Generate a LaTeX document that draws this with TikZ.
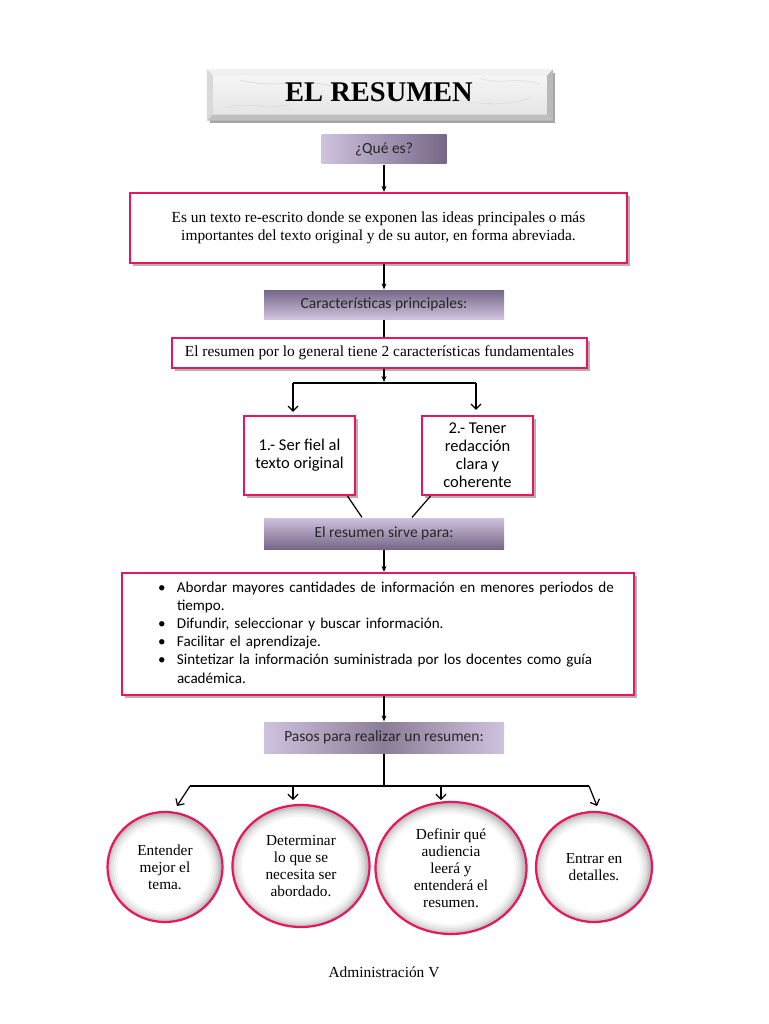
\documentclass[tikz,border=0pt]{standalone}
\usepackage{fontspec}
\setmainfont{Liberation Serif}
\newfontfamily\calibri{Carlito}
\usetikzlibrary{arrows.meta,shadows,shapes.geometric,calc}
\definecolor{rosa}{RGB}{232,22,94}
\definecolor{lilaclaro}{RGB}{206,194,222}
\definecolor{lilaoscuro}{RGB}{118,103,134}
\tikzset{
  caja/.style={draw=rosa, line width=2.2pt, fill=white, align=center,
    drop shadow={shadow xshift=3pt, shadow yshift=-3pt, fill=black, opacity=0.3},
    font=\fontsize{15.4}{18}\selectfont},
  etiq/.style={font=\calibri\fontsize{15.5}{17}\selectfont, text=black!85, inner sep=0pt},
  circulo/.style={ellipse, draw=rosa, line width=2.2pt, fill=white, align=center,
    font=\fontsize{15.3}{17}\selectfont, inner sep=0pt,
    path picture={
      \foreach \w/\o in {22/0.03,18/0.03,14/0.04,10/0.05,7/0.06,4/0.08}
        \draw[black, opacity=\o, line width=\w pt]
          let \p1=($(path picture bounding box.north east)-(path picture bounding box.center)$) in
          ([xshift=-1pt,yshift=-1pt]path picture bounding box.center) ellipse [x radius=\x1, y radius=\y1];
    }},
  barb/.style={-{Straight Barb[length=5pt,width=10pt]}},
  >={Stealth[length=6pt,width=5pt]}
}
\begin{document}
\begin{tikzpicture}[x=1pt, y=-1pt, line width=1.2pt]
  \useasboundingbox[fill=white] (0,0) rectangle (768,1024);

  % titulo
  \node[top color=gray!6, bottom color=gray!22, minimum width=345, minimum height=50, inner sep=0pt,
        drop shadow={shadow xshift=2pt, shadow yshift=-3pt, fill=black, opacity=0.35}] (titulo) at (380,95) {};
  \draw[gray!35, line width=0.5pt] (240,80) .. controls (280,90) and (300,76) .. (340,88);
  \draw[gray!30, line width=0.5pt] (420,104) .. controls (460,95) and (490,112) .. (530,98);
  \draw[gray!30, line width=0.5pt] (225,108) .. controls (250,100) and (265,112) .. (290,104);
  \draw[gray!30, line width=0.5pt] (480,78) .. controls (500,86) and (515,76) .. (540,84);
  \fill[gray!12] (titulo.north west) -- (titulo.north east) -- ([xshift=-6pt,yshift=-6pt]titulo.north east) -- ([xshift=6pt,yshift=-6pt]titulo.north west) -- cycle;
  \fill[gray!30] (titulo.north west) -- ([xshift=6pt,yshift=-6pt]titulo.north west) -- ([xshift=6pt,yshift=6pt]titulo.south west) -- (titulo.south west) -- cycle;
  \fill[gray!55] (titulo.north east) -- ([xshift=-6pt,yshift=-6pt]titulo.north east) -- ([xshift=-6pt,yshift=6pt]titulo.south east) -- (titulo.south east) -- cycle;
  \fill[gray!50] (titulo.south west) -- ([xshift=6pt,yshift=6pt]titulo.south west) -- ([xshift=-6pt,yshift=6pt]titulo.south east) -- (titulo.south east) -- cycle;
  \node[font=\fontsize{28.5}{30}\selectfont\bfseries] (tituloTxt) at (379,92) {EL RESUMEN};

  % cajas
  \node[etiq, left color=lilaclaro, right color=lilaoscuro, minimum width=125, minimum height=29] (que) at (384,149.5) {¿Qué es?};
  \node[caja, minimum width=497, minimum height=70] (def) at (378.5,228)
    {Es un texto re-escrito donde se exponen las ideas principales o más\\importantes del texto original y de su autor, en forma abreviada.};
  \node[etiq, top color=lilaoscuro, bottom color=lilaclaro, minimum width=240, minimum height=29] (carac) at (384,304.5) {Características principales:};
  \node[caja, minimum width=415, minimum height=30, inner sep=0pt] (fund) at (379.5,353)
    {El resumen por lo general tiene 2 características fundamentales};
  \node[caja, font=\calibri\fontsize{16.5}{18}\selectfont, minimum width=111, minimum height=79, inner sep=0pt] (uno) at (299.5,455.5)
    {1.- Ser fiel al\\texto original};
  \node[caja, font=\calibri\fontsize{16.5}{18}\selectfont, minimum width=111, minimum height=79, inner sep=0pt] (dos) at (477.5,455.5)
    {2.- Tener\\redacción\\clara y\\coherente};
  \node[etiq, top color=lilaclaro, bottom color=lilaoscuro, minimum width=240, minimum height=31] (sirve) at (384,533.5) {El resumen sirve para:};
  \node[caja, font=\calibri\fontsize{15.1}{18.2}\selectfont, align=left, text width=490,
        minimum width=512, minimum height=122] (usos) at (378,634)
    {\hspace*{25pt}\begin{tabular}{@{}p{19pt}@{}l@{}}
     \textbullet & Abordar mayores cantidades de información en menores periodos de\\
      & tiempo.\\
     \textbullet & Difundir, seleccionar y buscar información.\\
     \textbullet & Facilitar el aprendizaje.\\
     \textbullet & Sintetizar la información suministrada por los docentes como guía\\
      & académica.
     \end{tabular}};
  \node[etiq, left color=lilaclaro, right color=lilaclaro, middle color=lilaoscuro!85,
        minimum width=240, minimum height=31] (pasos) at (384,737.5) {Pasos para realizar un resumen:};

  % pasos
  \node[circulo, minimum width=115, minimum height=110] (p1) at (165,867) {Entender\\mejor el\\tema.};
  \node[circulo, minimum width=137, minimum height=122] (p2) at (301,866) {Determinar\\lo que se\\necesita ser\\abordado.};
  \node[circulo, minimum width=151, minimum height=132] (p3) at (451,868) {Definir qué\\audiencia\\leerá y\\entenderá el\\resumen.};
  \node[circulo, minimum width=116, minimum height=110] (p4) at (594,867) {Entrar en\\detalles.};

  \node[font=\fontsize{15.4}{17}\selectfont] (pie) at (384,972) {Administración V};

  % conectores
  \coordinate (bifI) at (293,383);
  \coordinate (bifD) at (476,383);
  \coordinate (ramaI) at (190,786);
  \coordinate (ramaD) at (589,786);
  \coordinate (f1) at (177,806);
  \coordinate (f2) at (293,800);
  \coordinate (f3) at (441,800);
  \coordinate (f4) at (597,806);

  \draw[->] (que.south) -- (que.south |- def.north);
  \draw[->] (que.south |- def.south) -- (carac.north);
  \draw (carac.south) -- (carac.south |- fund.north);
  \draw[->] (carac.south |- fund.south) -- ([yshift=1pt]carac.south |- bifI);
  \draw (bifI) -- (bifD);
  \draw[barb] (bifI) -- ([yshift=3pt]bifI |- uno.north);
  \draw[barb] (bifD) -- ([yshift=5pt]bifD |- dos.north);
  \draw ([xshift=48pt]uno.south) -- ([xshift=-22pt]sirve.north);
  \draw ([xshift=-47pt]dos.south) -- ([xshift=28pt]sirve.north);
  \draw[->] (sirve.south) -- (sirve.south |- usos.north);
  \draw[->] (sirve.south |- usos.south) -- (pasos.north);
  \draw (pasos.south) -- (pasos.south |- ramaI);
  \draw (ramaI) -- (ramaD);
  \draw[barb] (ramaI) -- (f1);
  \draw[barb] (f2 |- ramaI) -- (f2);
  \draw[barb] (f3 |- ramaI) -- (f3);
  \draw[barb] (ramaD) -- (f4);
\end{tikzpicture}
\end{document}
